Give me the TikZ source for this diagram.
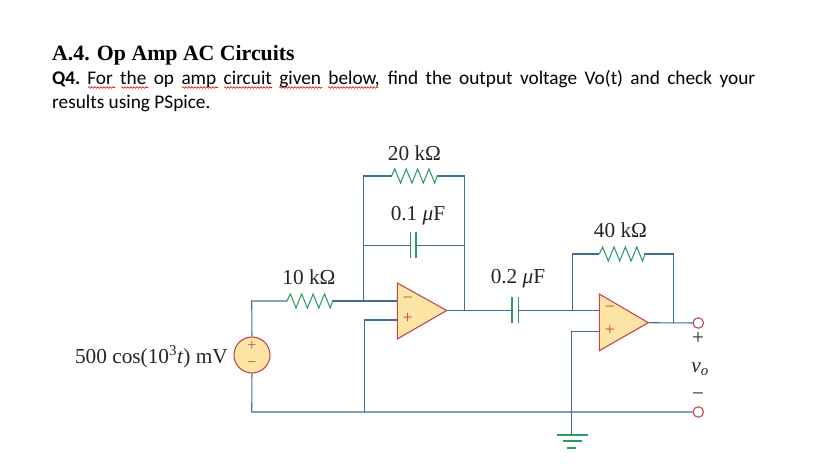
\documentclass[tikz,border=0pt]{standalone}
\usepackage{fontspec}
\setmainfont{Liberation Serif}
\newfontfamily\bodyf{Carlito}
\usetikzlibrary{decorations.pathmorphing}
\definecolor{wirec}{HTML}{3F6F98}
\definecolor{resc}{HTML}{2C9A63}
\definecolor{ampf}{HTML}{FDE5A6}
\definecolor{ampd}{HTML}{C4464F}
\definecolor{txtc}{HTML}{262626}
\newcommand{\zzpath}{-- ++(3.3,-7) -- ++(5.7,14) -- ++(5.7,-14) -- ++(5.7,14) -- ++(5.7,-14) -- ++(5.7,14) -- ++(5.7,-14) -- ++(5.7,14) -- ++(2.5,-7)}
\tikzset{
  x=1bp,y=-1bp,
  wire/.style={draw=wirec,line width=1.05bp},
  resline/.style={draw=resc,line width=1.05bp,line join=miter},
  capline/.style={draw=resc,line width=1.05bp},
  amp/.style={draw=ampd,fill=ampf,line width=1.1bp,line join=miter},
  term/.style={circle,draw=ampd,fill=white,line width=1.1bp,minimum size=10.5bp,inner sep=0pt},
  src/.style={circle,draw=ampd,fill=ampf,line width=1.1bp,minimum size=36bp,inner sep=0pt},
  clabel/.style={font=\fontsize{21.3bp}{23bp}\selectfont,text=txtc,inner sep=0pt},
  sign/.style={font=\fontsize{18bp}{19bp}\selectfont,text=ampd,inner sep=0pt},
  squig/.style={draw=red!85!black,line width=0.6bp,decorate,decoration={snake,segment length=3bp,amplitude=0.8bp}},
}
\begin{document}
\begin{tikzpicture}
\useasboundingbox[fill=white] (0,0) rectangle (814,464);
% text
\node[anchor=base west,inner sep=0pt,text=black] (title) at (52,61) {\fontsize{21.8bp}{24bp}\selectfont\bfseries A.4. Op Amp AC Circuits};
\node[anchor=north west,inner sep=0pt,text width=703bp,align=justify,text=black] (body) at (52,70)
 {\fontsize{19.3bp}{24.5bp}\selectfont\bodyf\textbf{Q4.}\hspace{7bp}For the op amp circuit given below, find the output voltage Vo(t) and check your\linebreak results using PSpice.\par};
\foreach \a/\b [count=\i] in {88/115,121/148,182/218,224/272,279/322,328/378}
  \draw[squig] (\a,87.5) -- (\b,87.5);
% coordinates
\coordinate (tl) at (251.7,301);
\coordinate (bl) at (251.7,412);
\coordinate (r1a) at (287,301);
\coordinate (r1b) at (332,301);
\coordinate (a1m) at (397.3,301);
\coordinate (a1p) at (397.3,320);
\coordinate (a1o) at (446.7,310.5);
\coordinate (a1t) at (397.3,283);
\coordinate (a1b) at (397.3,339);
\coordinate (fl) at (363.5,301);
\coordinate (ftl) at (363.5,176);
\coordinate (ftr) at (464.3,176);
\coordinate (fr) at (464.3,310.5);
\coordinate (r2a) at (391.5,176);
\coordinate (r2b) at (436.5,176);
\coordinate (c1l) at (363.5,245.3);
\coordinate (c1r) at (464.3,245.3);
\coordinate (c1a) at (410.3,245.3);
\coordinate (c1b) at (416,245.3);
\coordinate (pb1) at (364.5,320);
\coordinate (pb2) at (364.5,412);
\coordinate (c2a) at (512,310.5);
\coordinate (c2b) at (518.3,310.5);
\coordinate (a2m) at (599.3,310.5);
\coordinate (a2p) at (599.3,331.7);
\coordinate (a2o) at (648.3,322.7);
\coordinate (a2t) at (599.3,294);
\coordinate (a2b) at (599.3,350.7);
\coordinate (gl) at (572.7,310.5);
\coordinate (gtl) at (572.7,254);
\coordinate (gtr) at (673.3,254);
\coordinate (gr) at (673.3,322.7);
\coordinate (r3a) at (599.3,254);
\coordinate (r3b) at (644.3,254);
\coordinate (gp) at (571.7,331.7);
\coordinate (gb) at (571.7,412);
\coordinate (gnd) at (571.7,435);
% source and terminals
\node[src] (vs) at (252,355) {};
\node[term] (to) at (698.3,323) {};
\node[term] (tb) at (698.3,412) {};
% wires
\draw[wire] (vs.north) -- (tl) -- (r1a);
\draw[wire] (r1b) -- (a1m);
\draw[wire] (vs.south) -- (bl) -- (tb.west);
\draw[wire] (fl) -- (ftl) -- (r2a);
\draw[wire] (r2b) -- (ftr) -- (fr);
\draw[wire] (c1l) -- (c1a);
\draw[wire] (c1b) -- (c1r);
\draw[wire] (a1p) -- (pb1) -- (pb2);
\draw[wire] (a1o) -- (c2a);
\draw[wire] (c2b) -- (a2m);
\draw[wire] (gl) -- (gtl) -- (r3a);
\draw[wire] (r3b) -- (gtr) -- (gr);
\draw[wire] (a2o) -- (to.west);
\draw[wire] (a2p) -- (gp) -- (gb) -- (gnd);
% resistors
\draw[resline] (r1a) \zzpath;
\draw[resline] (r2a) \zzpath;
\draw[resline] (r3a) \zzpath;
% capacitors
\draw[capline] ([yshift=-13bp]c1a) -- ([yshift=13bp]c1a);
\draw[capline] ([yshift=-13bp]c1b) -- ([yshift=13bp]c1b);
\draw[capline] ([yshift=-13bp]c2a) -- ([yshift=13bp]c2a);
\draw[capline] ([yshift=-13bp]c2b) -- ([yshift=13bp]c2b);
% ground
\draw[capline,line width=1.4bp] ([xshift=-15bp]gnd) -- ([xshift=16bp]gnd);
\draw[capline] ([xshift=-9bp,yshift=-6bp]gnd) -- ([xshift=10bp,yshift=-6bp]gnd);
\draw[capline] ([xshift=-4.5bp,yshift=-13bp]gnd) -- ([xshift=4.5bp,yshift=-13bp]gnd);
% op amps
\draw[amp] (a1t) -- (a1o) -- (a1b) -- cycle;
\draw[amp] (a2t) -- (a2o) -- (a2b) -- cycle;
% signs
\node[sign] (s1m) at (407.7,300.5) {−};
\node[sign] (s1p) at (407.7,318) {+};
\node[sign] (s2m) at (610,309.5) {−};
\node[sign] (s2p) at (610,330) {+};
\node[sign,font=\fontsize{16bp}{17bp}\selectfont] (vsp) at (252,346) {+};
\node[sign,font=\fontsize{16bp}{17bp}\selectfont] (vsm) at (252,365) {−};
% labels
\node[clabel] (l20k) at (414.5,153) {20 kΩ};
\node[clabel] (l01) at (418,216) {0.1 \textit{μ}F};
\node[clabel] (l10k) at (309,277) {10 kΩ};
\node[clabel] (l02) at (518,278.5) {0.2 \textit{μ}F};
\node[clabel] (l40k) at (620.5,230) {40 kΩ};
\node[clabel,anchor=east] (lv) at (228,357) {500 cos(10\textsuperscript{3}\textit{t}) mV};
\node[clabel,text=txtc] (op) at (698,338) {+};
\node[clabel] (vo) at (700,369) {\textit{v}\textsubscript{\textit{o}}};
\node[clabel] (om) at (698,397) {−};
\end{tikzpicture}
\end{document}
